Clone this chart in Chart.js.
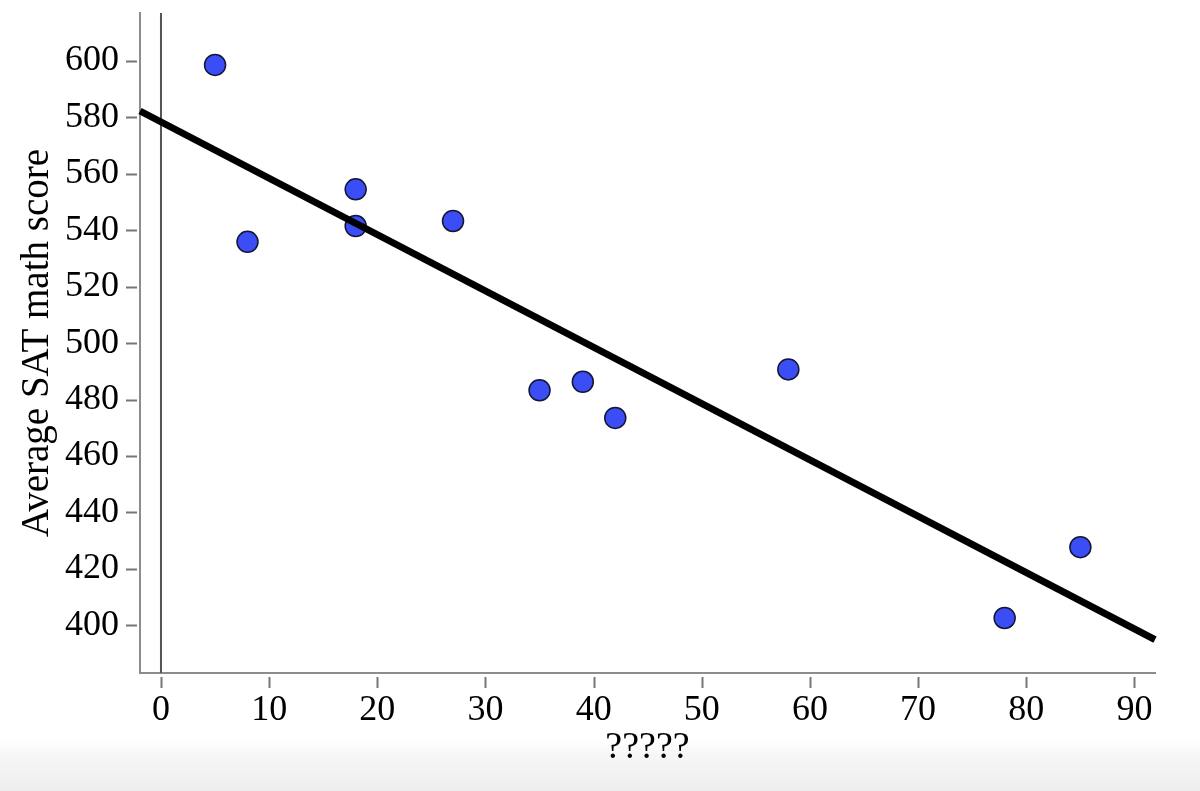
<!DOCTYPE html>
<html>
<head>
<meta charset="utf-8">
<script src="https://cdn.jsdelivr.net/npm/chart.js@4.4.1/dist/chart.umd.min.js"></script>
<style>
  html, body { margin: 0; padding: 0; }
  body {
    width: 1200px; height: 791px; overflow: hidden;
    background: linear-gradient(to bottom, #ffffff 0px, #ffffff 740px, #f6f6f6 756px, #eeeeee 791px);
  }
  canvas { display: block; }
</style>
</head>
<body>
<canvas id="c" width="1200" height="791"></canvas>
<script>
// ---- data ----
const xValues = [5, 8, 18, 18, 27, 35, 39, 42, 58, 78, 85];
const yValues = [598.6, 535.9, 554.5, 541.5, 543.3, 483.3, 486.3, 473.5, 490.7, 402.6, 427.7];
const xTickValues = [0, 10, 20, 30, 40, 50, 60, 70, 80, 90];
const yTickValues = [400, 420, 440, 460, 480, 500, 520, 540, 560, 580, 600];
const xRange = [-1.94, 91.9];
const yRange = [383.1, 617];
const xTitle = '?????';
const yTitle = 'Average SAT math score';

// least-squares fit line through the points
const n = xValues.length;
const mx = xValues.reduce((a, b) => a + b, 0) / n;
const my = yValues.reduce((a, b) => a + b, 0) / n;
let sxy = 0, sxx = 0;
for (let i = 0; i < n; i++) { sxy += (xValues[i] - mx) * (yValues[i] - my); sxx += (xValues[i] - mx) ** 2; }
const slope = sxy / sxx;
const intercept = my - slope * mx;
const fitLine = xRange.map(x => ({ x: x, y: intercept + slope * x }));

const points = xValues.map((x, i) => ({ x: x, y: yValues[i] }));

const FONT = "'Liberation Serif', 'Times New Roman', serif";
const TEXT = '#000000';

const extras = {
  id: 'extras',
  beforeDatasetsDraw(chart) {
    const { ctx, chartArea, scales: { x } } = chart;
    const px = x.getPixelForValue(0);
    ctx.save();
    ctx.strokeStyle = '#555555';
    ctx.lineWidth = 2;
    ctx.beginPath();
    ctx.moveTo(px, chartArea.top);
    ctx.lineTo(px, chartArea.bottom);
    ctx.stroke();
    ctx.restore();
  },
  afterDraw(chart) {
    const { ctx, chartArea, scales: { x, y } } = chart;
    ctx.save();
    ctx.strokeStyle = '#777777';
    ctx.lineWidth = 2;
    ctx.beginPath();
    y.ticks.forEach(t => {
      const py = Math.round(y.getPixelForValue(t.value)) + 0.5;
      ctx.moveTo(chartArea.left - 14, py);
      ctx.lineTo(chartArea.left - 3, py);
    });
    x.ticks.forEach(t => {
      const px = Math.round(x.getPixelForValue(t.value)) + 0.5;
      ctx.moveTo(px, chartArea.bottom + 4);
      ctx.lineTo(px, chartArea.bottom + 15);
    });
    ctx.stroke();
    ctx.restore();
  }
};

new Chart(document.getElementById('c'), {
  type: 'scatter',
  data: {
    datasets: [
      {
        type: 'line',
        data: fitLine,
        borderColor: '#000000',
        borderWidth: 7,
        pointRadius: 0,
        fill: false,
        order: 1,
        clip: 4
      },
      {
        data: points,
        backgroundColor: '#3b4ef6',
        borderColor: '#141633',
        borderWidth: 1.5,
        pointRadius: 10.5,
        pointHoverRadius: 10.5,
        order: 2
      }
    ]
  },
  options: {
    responsive: false,
    animation: false,
    devicePixelRatio: 1,
    layout: { padding: { top: 13, right: 45, bottom: 20, left: 0 } },
    plugins: { legend: { display: false }, tooltip: { enabled: false } },
    scales: {
      x: {
        type: 'linear',
        min: xRange[0],
        max: xRange[1],
        afterFit(s) { s.height = 98; s.paddingLeft = 0; s.paddingRight = 0; },
        afterBuildTicks(s) { s.ticks = xTickValues.map(v => ({ value: v })); },
        grid: { display: false, drawTicks: true, tickLength: 14 },
        border: { display: true, color: '#8c8c8c', width: 2 },
        ticks: { color: TEXT, font: { family: FONT, size: 36 }, padding: 2, maxRotation: 0, autoSkip: false, includeBounds: false },
        title: { display: true, text: xTitle, color: TEXT, font: { family: FONT, size: 38 }, padding: { top: 0, bottom: 0 } }
      },
      y: {
        type: 'linear',
        min: yRange[0],
        max: yRange[1],
        afterFit(s) { s.width = 140; s.paddingTop = 0; s.paddingBottom = 0; },
        afterBuildTicks(s) { s.ticks = yTickValues.map(v => ({ value: v })); },
        grid: { display: false, drawTicks: true, tickLength: 14 },
        border: { display: true, color: '#8c8c8c', width: 2 },
        ticks: { color: TEXT, font: { family: FONT, size: 36 }, padding: 7, autoSkip: false, includeBounds: false },
        title: { display: true, text: yTitle, color: TEXT, font: { family: FONT, size: 39 }, padding: { top: 14, bottom: 0 } }
      }
    }
  },
  plugins: [extras]
});
</script>
</body>
</html>
